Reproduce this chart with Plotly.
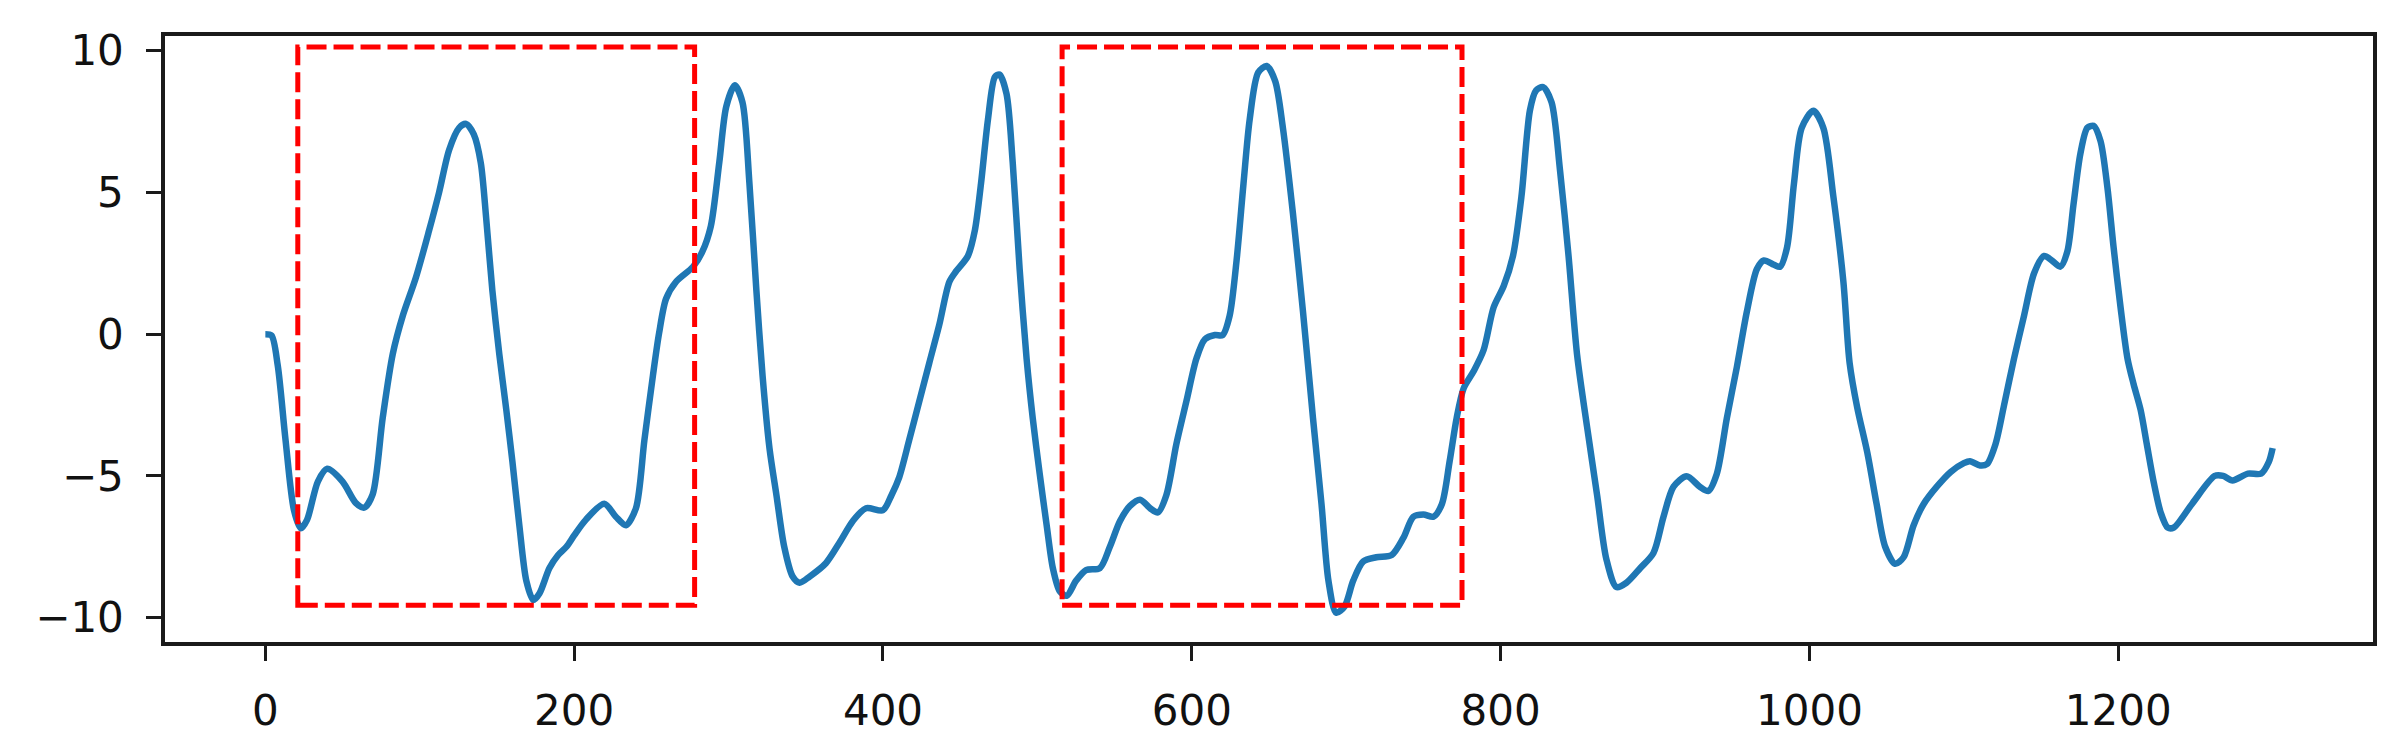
import plotly.graph_objects as go

# Signal trace
x_vals = [0, 4, 8, 13, 18.5, 23, 27, 34, 40, 50, 58.5, 64, 69.5, 76, 82.5, 89, 97.5, 106, 112.5, 119,
          125.5, 130, 135, 139.5, 143, 147, 151.5, 156, 160, 164.5, 169, 173.5, 177.5, 184, 189.5, 195,
          200, 207.5, 219.5, 227, 233.5, 240, 245.5, 251, 255, 259.5, 266, 277, 283, 288.5, 294, 298.5,
          304, 309, 313.5, 318, 322, 326.5, 331, 336, 341.5, 346, 352.5, 363, 372, 380.5, 389, 400,
          405.5, 410.5, 417, 423.5, 430, 436.5, 443, 447.5, 455, 459.5, 463.5, 468, 472.5, 475.5, 480,
          484, 488.5, 493, 497, 501.5, 506, 510, 514.5, 519, 525, 531.5, 540.5, 547, 553.5, 560, 566.5,
          573, 578, 583.5, 590, 596.5, 603, 608.5, 615, 620, 624.5, 629, 633.5, 637.5, 643, 648.5, 654,
          659, 665.5, 672, 678.5, 684, 688.5, 693.5, 699, 704.5, 711, 719.5, 729.5, 737, 743.5, 750,
          756.5, 762, 767, 771.5, 776, 782.5, 789, 795.5, 802, 808, 813.5, 819, 823, 827.5, 833, 838.5,
          844, 849.5, 856, 862.5, 868.5, 875, 881.5, 890.5, 899, 905.5, 912, 920.5, 929, 934.5, 940,
          946.5, 953, 959.5, 966, 970.5, 977, 981, 985.5, 990, 995, 1002.5, 1009, 1015.5, 1022, 1026,
          1031, 1037.5, 1043.5, 1049, 1055.5, 1061, 1067.5, 1074, 1082.5, 1091.5, 1100, 1104, 1110.5,
          1115, 1120.5, 1126, 1132.5, 1139, 1145.5, 1152, 1157, 1162.5, 1167, 1171, 1175.5, 1180, 1184,
          1188.5, 1193, 1197, 1201.5, 1206, 1210, 1214.5, 1218.5, 1223, 1227.5, 1232, 1236, 1248,
          1262.5, 1268, 1274, 1284, 1292.5, 1297.5, 1300]
y_vals = [0.0, -0.05, -1.1, -3.7, -6.2, -6.85, -6.55, -5.2, -4.75, -5.2, -5.95, -6.12, -5.65, -2.95, -0.7,
          0.65, 2.0, 3.65, 5.0, 6.5, 7.28, 7.42, 7.05, 6.05, 4.1, 1.55, -0.7, -2.65, -4.5, -6.75, -8.7,
          -9.38, -9.15, -8.25, -7.8, -7.5, -7.1, -6.55, -5.98, -6.44, -6.74, -6.14, -3.73, -1.46, 0.04,
          1.25, 1.85, 2.38, 2.91, 3.81, 6.07, 8.03, 8.78, 8.18, 5.32, 1.55, -1.46, -4.03, -5.68, -7.49,
          -8.55, -8.77, -8.55, -8.08, -7.34, -6.59, -6.14, -6.21, -5.68, -5.05, -3.73, -2.37, -1.01,
          0.34, 1.85, 2.23, 2.76, 3.66, 5.32, 7.58, 9.08, 9.16, 8.48, 6.07, 2.30, -0.86, -2.97, -4.93,
          -6.74, -8.25, -9.07, -9.23, -8.70, -8.32, -8.25, -7.49, -6.59, -6.06, -5.84, -6.14, -6.29,
          -5.68, -3.88, -2.37, -0.86, -0.18, -0.03, -0.03, 0.65, 2.60, 5.32, 7.58, 9.23, 9.46, 8.93,
          7.28, 4.26, 0.80, -2.97, -5.99, -8.70, -9.83, -9.60, -8.70, -8.02, -7.87, -7.79, -7.19, -6.44,
          -6.36, -6.44, -5.99, -4.48, -2.97, -1.92, -1.31, -0.56, 0.95, 1.70, 2.76, 4.86, 7.9, 8.6, 8.72,
          8.18, 5.77, 2.76, -0.71, -3.27, -5.68, -7.94, -8.92, -8.77, -8.25, -7.72, -6.44, -5.38, -5.01,
          -5.38, -5.53, -4.93, -2.97, -1.16, 0.80, 2.30, 2.60, 2.45, 2.38, 3.06, 5.32, 7.28, 7.88, 7.28,
          4.86, 1.85, -1.0, -2.6, -4.18, -5.99, -7.49, -8.10, -7.87, -6.74, -5.99, -5.38, -4.86, -4.55,
          -4.48, -4.63, -4.58, -3.88, -2.52, -0.86, 0.65, 2.15, 2.76, 2.60, 2.38, 2.91, 4.56, 6.37, 7.28,
          7.35, 6.82, 5.17, 3.06, 0.95, -0.86, -1.77, -2.67, -3.88, -5.23, -6.29, -6.82, -6.82, -5.97,
          -5.0, -5.0, -5.16, -4.92, -4.92, -4.51, -4.02]

# Highlight boxes (x0, x1, y0, y1)
box_x0 = [21, 516]
box_x1 = [278, 775]
box_y0 = [-9.56, -9.56]
box_y1 = [10.13, 10.13]

x_ticks = [0, 200, 400, 600, 800, 1000, 1200]
y_ticks = [-10, -5, 0, 5, 10]

fig = go.Figure()
fig.add_trace(go.Scatter(
    x=x_vals, y=y_vals, mode="lines",
    line=dict(color="#1f77b4", width=6.5, shape="spline", smoothing=0.8),
    showlegend=False, hoverinfo="skip",
))

for a, b, c, d in zip(box_x0, box_x1, box_y0, box_y1):
    fig.add_shape(type="rect", xref="x", yref="y", x0=a, x1=b, y0=c, y1=d,
                  line=dict(color="#ff0000", width=5, dash="20px,7px"),
                  fillcolor="rgba(0,0,0,0)")

axis_common = dict(
    showgrid=False, zeroline=False, showline=True, mirror=True,
    linecolor="#1a1a1a", linewidth=3.5,
    ticks="outside", ticklen=15, tickwidth=3, tickcolor="#1a1a1a",
    tickfont=dict(family="DejaVu Sans", size=42, color="#111111"),
    ticklabelstandoff=14,
)

fig.update_xaxes(range=[-65, 1365], tickmode="array", tickvals=x_ticks, **axis_common)
fig.update_yaxes(range=[-10.86, 10.52], tickmode="array", tickvals=y_ticks, **axis_common)

fig.update_layout(
    width=2393, height=739, autosize=False,
    margin=dict(l=157, r=28, t=28, b=82),
    plot_bgcolor="white", paper_bgcolor="white",
)

fig.write_html("out.html")
